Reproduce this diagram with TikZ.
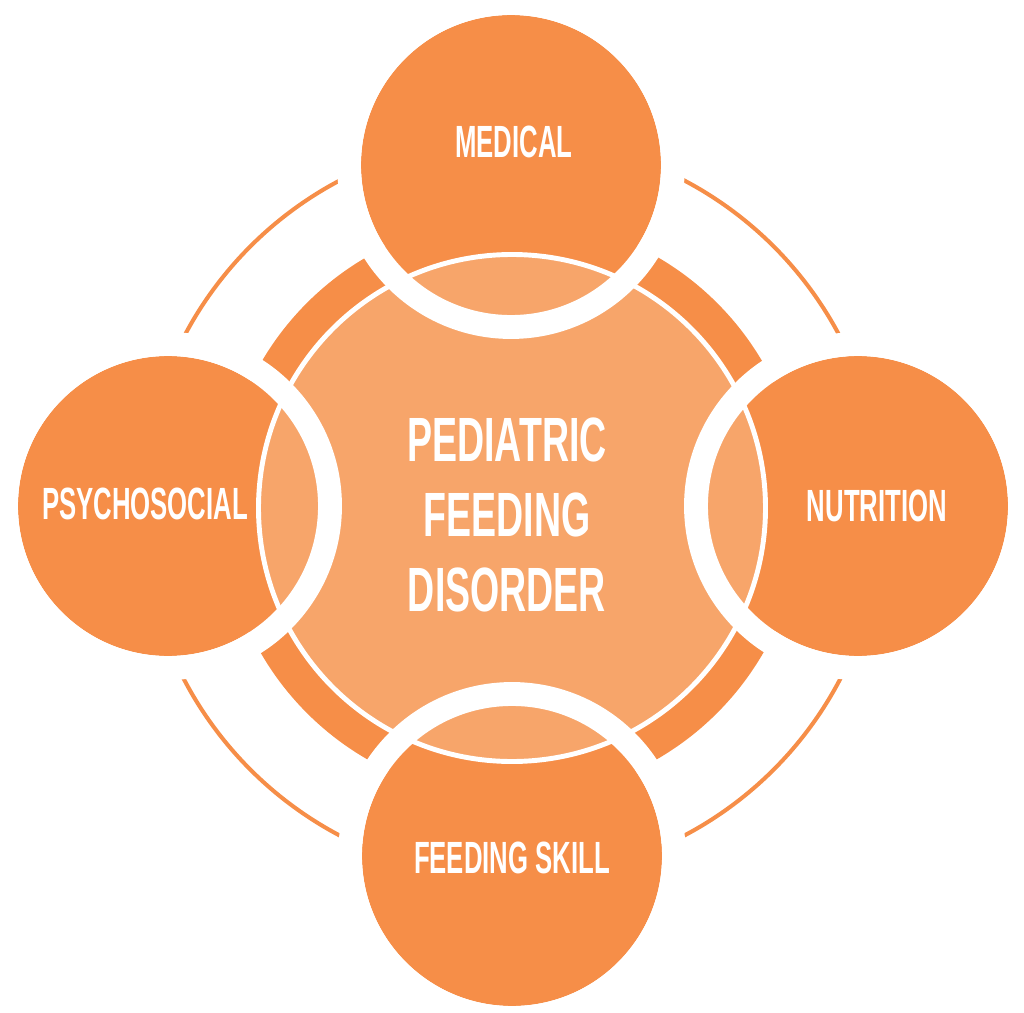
\documentclass[tikz,border=0pt]{standalone}
\usepackage{fontspec}
\newfontfamily\labelfont[FakeStretch=0.6]{Liberation Sans}
\newfontfamily\satfont[FakeStretch=0.57]{Liberation Sans}
\definecolor{deeporange}{RGB}{246,142,72}
\definecolor{paleorange}{RGB}{247,165,106}
\tikzset{
	rim/.style={draw=white, line width=13.6pt},
	sattext/.style={text=white, font=\satfont\bfseries\fontsize{25.7}{30}\selectfont},
	hubtext/.style={text=white, align=center, font=\labelfont\bfseries\fontsize{35.6}{42.5}\selectfont}
}
\begin{document}
\begin{tikzpicture}[x=0.02cm, y=0.02cm]
	\useasboundingbox (0, 0) rectangle (1024, -1013);
	\coordinate (hub) at (512, -508);
	\coordinate (medical) at (511, -165);
	\coordinate (nutrition) at (858, -506);
	\coordinate (skill) at (512, -856);
	\coordinate (psycho) at (168, -506);
	% outer thin ring and dark band
	\draw[deeporange, line width=2.3pt] (hub) circle (370);
	\fill[deeporange] (hub) circle (290);
	% the four satellites
	\fill[deeporange] (medical) circle (150);
	\fill[deeporange] (nutrition) circle (150);
	\fill[deeporange] (skill) circle (150);
	\fill[deeporange] (psycho) circle (150);
	% centre disc
	\draw[white, line width=2.8pt, fill=paleorange] (hub) circle (253.5);
	% white rims cut the band and the centre
	\draw[rim] (medical) circle (162);
	\draw[rim] (nutrition) circle (162);
	\draw[rim] (skill) circle (162);
	\draw[rim] (psycho) circle (162);
	% texts
	\node[hubtext] (hubtitle) at (507, -515) {PEDIATRIC\\FEEDING\\DISORDER};
	\node[sattext] (medlabel) at (514, -142) {MEDICAL};
	\node[sattext] (nutlabel) at (877, -506) {NUTRITION};
	\node[sattext] (skilllabel) at (512, -858) {FEEDING SKILL};
	\node[sattext] (psylabel) at (145, -504) {PSYCHOSOCIAL};
\end{tikzpicture}
\end{document}
